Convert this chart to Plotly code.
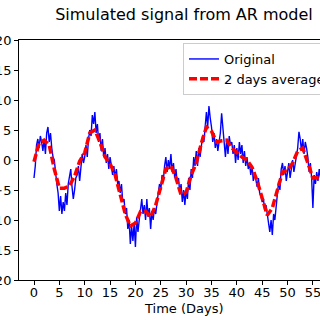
import plotly.graph_objects as go

# Original (blue) signal, 4 samples per day
orig_values = [
    -3.0, -1.0, 2.5, 3.5,
    2.0, 4.0, 3.0, 1.5,
    3.5, 1.0, 4.5, 5.5,
    3.0, 4.5, 2.0, 0.5,
    0.0, -2.5, -4.0, -5.5,
    -8.5, -6.0, -9.0, -7.0,
    -8.5, -5.5, -7.5, -4.0,
    -3.0, -1.5, -4.5, -6.5,
    -5.0, -3.0, -2.5, -1.0,
    -3.5, -1.0, 1.0, -0.5,
    0.5, 2.5, 0.5, 3.5,
    5.0, 4.0, 7.5, 6.0,
    8.0, 4.5, 6.0, 3.0,
    4.5, 1.5, 3.5, 0.5,
    2.0, -0.5, 1.0, -1.5,
    0.5, -1.0, -2.5, -1.0,
    -3.0, -1.5, -4.0, -3.5,
    -5.5, -4.0, -7.0, -6.5,
    -9.0, -8.0, -11.5, -10.0,
    -14.0, -11.0, -13.5, -10.5,
    -14.5, -9.5, -12.0, -10.0,
    -8.5, -6.5, -9.0, -7.5,
    -10.0, -6.5, -9.5, -8.0,
    -11.5, -8.5, -10.0, -8.0,
    -9.0, -6.5, -5.5, -4.0,
    -5.0, -2.5, -3.5, -1.0,
    0.5, -2.0, 0.0, -1.5,
    1.0, -2.0, -0.5, -3.0,
    -1.5, -4.0, -3.0, -5.5,
    -4.0, -7.0, -5.0, -7.5,
    -5.0, -6.5, -3.0, -5.0,
    -1.5, -3.0, 0.5, -1.0,
    1.5, -1.0, 2.0, 0.5,
    2.5, 4.0, 3.0, 6.5,
    8.0, 5.5, 9.0, 7.0,
    5.5, 3.0, 4.5, 2.0,
    3.5, 1.5, 3.0, 4.5,
    7.8, 5.0, 2.5, 0.5,
    3.5, 1.0, 4.0, 2.5,
    3.0, 1.0, 2.5, -0.5,
    2.0, 0.0, 3.0, 1.0,
    2.5, -0.5, 1.5, -1.0,
    0.5, -1.5, -0.5, -2.5,
    -1.0, -3.5, -2.0, -3.0,
    -4.5, -3.0, -5.5, -6.0,
    -7.0, -6.5, -8.5, -7.5,
    -9.5, -10.5, -12.0, -10.0,
    -12.5, -9.0, -10.0, -7.5,
    -6.0, -3.5, -5.0, -1.5,
    -0.5, -2.5, -1.0, -3.5,
    -2.0, -0.5, -3.0, -1.5,
    0.0, -2.0, -0.5, 1.0,
    2.0, 4.7, 3.5, 1.5,
    3.5, 1.0, 3.0, 2.0,
    0.5, -2.0, -0.5, -3.0,
    -8.0, -2.5, -4.0, -2.0,
    -3.5, -1.5, -3.0, -2.0,
    -3.0,
]
orig_days = [i * 0.25 for i in range(len(orig_values))]

# 2 days average (red dashed), one value per day
avg_days = list(range(58))
avg_values = [
    -0.3, 2.8, 3.3, 2.5, -1.5, -4.7, -4.7, -4.3, -2.7, -0.2,
    1.2, 4.5, 5.0, 3.0, 0.5, -0.6, -2.5, -5.7, -9.0, -11.0,
    -10.5, -8.6, -8.5, -9.5, -7.5, -4.5, -1.5, -1.0, -3.0, -5.8,
    -5.4, -2.5, -0.5, 2.8, 5.5, 4.8, 3.0, 3.2, 3.3, 2.0,
    1.2, 0.5, 0.0, -1.2, -3.5, -6.5, -9.2, -8.0, -4.8, -2.0,
    -1.7, -0.5, 1.5, 2.0, -0.5, -3.0, -2.9, -2.8,
]

x_ticks = list(range(0, 60, 5))
y_ticks = list(range(-20, 25, 5))

font = "DejaVu Sans"

fig = go.Figure()
fig.add_trace(go.Scatter(x=orig_days, y=orig_values, mode="lines", name="Original",
                         line=dict(color="#0000ff", width=1.4)))
fig.add_trace(go.Scatter(x=avg_days, y=avg_values, mode="lines", name="2 days average",
                         line=dict(color="#ff0000", width=3.5, dash="8px,3px")))

fig.update_layout(
    width=320, height=320,
    margin=dict(l=19, r=0, t=40, b=40, autoexpand=False),
    paper_bgcolor="white", plot_bgcolor="white",
    font=dict(family=font, size=13, color="black"),
    title=dict(text="Simulated signal from AR model", x=0.575, xanchor="center",
               y=1 - 14 / 320, yanchor="middle", font=dict(size=16, family=font, color="black")),
    showlegend=True,
    legend=dict(x=(183 - 19) / 301, y=(280 - 43) / 240, xanchor="left", yanchor="top",
                bgcolor="white", bordercolor="#cccccc", borderwidth=1,
                font=dict(size=13, family=font, color="black"), tracegroupgap=0),
)
fig.update_xaxes(range=[-2.96, 56.4], tickvals=x_ticks, ticks="outside", ticklen=4,
                 tickcolor="black", showline=True, linecolor="black", linewidth=1,
                 mirror=True, showgrid=False, zeroline=False, automargin=False,
                 ticklabeloverflow="allow", ticklabelstandoff=-4,
                 tickfont=dict(size=13, family=font, color="black"))
fig.update_yaxes(range=[-20, 20], tickvals=y_ticks, ticks="outside", ticklen=4,
                 tickcolor="black", showline=True, linecolor="black", linewidth=1,
                 showgrid=False, zeroline=False, automargin=False,
                 ticklabeloverflow="allow",
                 tickfont=dict(size=13, family=font, color="black"))
fig.add_annotation(text="Time (Days)", xref="paper", yref="paper",
                   x=(183.5 - 19) / 301, y=-(308 - 280) / 240, xanchor="center", yanchor="middle",
                   showarrow=False, font=dict(size=13, family=font, color="black"))

fig.write_html("out.html")
